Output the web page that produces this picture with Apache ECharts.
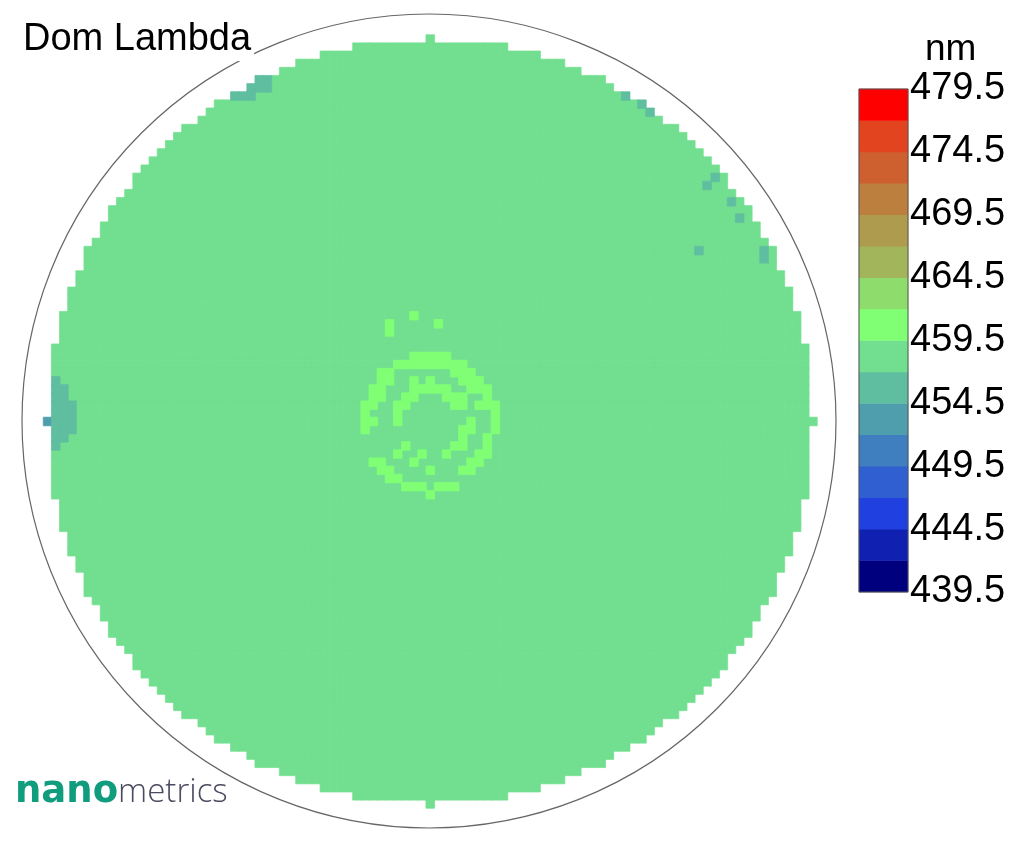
<!DOCTYPE html>
<html>
<head>
<meta charset="utf-8">
<title>Dom Lambda</title>
<style>
  html, body { margin: 0; padding: 0; background: #fff; }
  #chart { width: 1024px; height: 847px; }
</style>
<script src="https://cdn.jsdelivr.net/npm/echarts@6/dist/echarts.min.js"></script>
</head>
<body>
<div id="chart"></div>
<script>
// wafer extent, first and last measured column of each row (row 0 is the top)
const rowFirstCol = [47,
  38, 34, 31, 29, 26, 25, 23, 21, 20, 19, 17, 16, 15, 14, 13, 12,
  11, 11, 10, 9, 8, 8, 7, 7, 6, 5, 5, 5, 4, 4, 3, 3, 3, 2, 2, 2, 2,
  1, 1, 1, 1, 1, 1, 1, 1, 1,
  0,
  1, 1, 1, 1, 1, 1, 1, 1, 1,
  2, 2, 2, 2, 3, 3, 3, 4, 4, 5, 5, 5, 6, 7, 7, 8, 8, 9, 10, 11, 11,
  12, 13, 14, 15, 16, 17, 19, 20, 21, 23, 25, 26, 29, 31, 34, 38,
  47];
const rowLastCol = [47,
  56, 60, 63, 65, 68, 69, 71, 73, 74, 75, 77, 78, 79, 80, 81, 82,
  83, 83, 84, 85, 86, 86, 87, 87, 88, 89, 89, 89, 90, 90, 91, 91, 91, 92, 92, 92, 92,
  93, 93, 93, 93, 93, 93, 93, 93, 93,
  94,
  93, 93, 93, 93, 93, 93, 93, 93, 93,
  92, 92, 92, 92, 91, 91, 91, 90, 90, 89, 89, 89, 88, 87, 87, 86, 86, 85, 84, 83, 83,
  82, 81, 80, 79, 78, 77, 75, 74, 73, 71, 69, 68, 65, 63, 60, 56,
  47];

// nm values
const baseValue = 458.2;
const highValue = 460.7;
const edgeValue = 455.7;
const lowValue = 453.2;

// bright ring around the centre, [col, row]
const highCells = [
  [45,34], [48,35], [42,35], [42,36],
  [45,39], [46,39], [47,39], [48,39], [49,39],
  [43,40], [44,40], [45,40], [46,40], [47,40], [48,40], [49,40], [50,40], [51,40],
  [41,41], [42,41], [50,41], [51,41], [52,41],
  [41,42], [42,42], [45,42], [47,42], [51,42], [52,42], [53,42],
  [40,43], [41,43], [45,43], [46,43], [47,43], [48,43], [49,43], [52,43], [53,43], [54,43],
  [40,44], [41,44], [44,44], [45,44], [49,44], [50,44], [51,44], [54,44],
  [39,45], [40,45], [43,45], [44,45], [50,45], [51,45], [53,45], [54,45], [55,45],
  [39,46], [43,46], [55,46],
  [39,47], [40,47], [43,47], [52,47], [55,47],
  [39,48], [51,48], [52,48], [55,48],
  [51,49], [54,49],
  [44,50], [50,50], [51,50], [54,50],
  [43,51], [46,51], [49,51], [53,51], [54,51],
  [40,52], [41,52], [45,52], [52,52], [53,52],
  [41,53], [42,53], [47,53], [51,53], [52,53],
  [42,54], [43,54],
  [44,55], [45,55], [46,55], [48,55], [49,55], [50,55],
  [47,56]
];
// slightly low cells near the edge, [col, row]
const edgeCells = [
  [26,5], [27,5], [25,6], [26,6], [27,6], [23,7], [24,7], [25,7],
  [71,7], [73,8], [74,9], [82,17], [81,18], [84,20], [85,22], [80,26], [88,26], [88,27],
  [1,42], [1,43], [2,43], [1,44], [2,44], [1,45], [2,45], [3,45],
  [1,46], [2,46], [3,46], [1,47], [2,47], [3,47], [1,48], [2,48], [3,48],
  [1,49], [2,49], [1,50]
];
const lowCells = [[0,47]];

// colour scale, bottom to top
const bandEdges = [439.5, 442, 444.5, 447, 449.5, 452, 454.5, 457, 459.5, 462, 464.5, 467, 469.5, 472, 474.5, 477, 479.5];
const bandColors = ['#00007f', '#1020b0', '#2040e0', '#2f5fd0', '#3f7ebf', '#4f9eae', '#60bea0', '#72df90',
  '#80ff75', '#8edc6c', '#a3b55b', '#af9b4d', '#bd7f3d', '#ce5f2f', '#e24420', '#ff0000'];
const tickValues = [439.5, 444.5, 449.5, 454.5, 459.5, 464.5, 469.5, 474.5, 479.5];

const colCount = 95;
const cols = [], rows = [];
for (let i = 0; i < colCount; i++) { cols.push(i); rows.push(i); }

const override = {};
highCells.forEach(c => { override[c[0] + '_' + c[1]] = highValue; });
edgeCells.forEach(c => { override[c[0] + '_' + c[1]] = edgeValue; });
lowCells.forEach(c => { override[c[0] + '_' + c[1]] = lowValue; });

function bandColor(v) {
  for (let i = 0; i < bandColors.length; i++) {
    if (v < bandEdges[i + 1]) return bandColors[i];
  }
  return bandColors[bandColors.length - 1];
}
// a thin border of the cell's own colour closes the seams between neighbours
function cell(c, r, v) {
  return { value: [c, r, v], itemStyle: { borderColor: bandColor(v), borderWidth: 0.7 } };
}

// plain cells go first so the odd ones are painted on top of them
const baseCells = [], oddCells = [];
rowFirstCol.forEach((first, r) => {
  for (let c = first; c <= rowLastCol[r]; c++) {
    const v = override[c + '_' + r];
    if (v === undefined) baseCells.push(cell(c, r, baseValue));
    else oddCells.push(cell(c, r, v));
  }
});
const waferData = baseCells.concat(oddCells);

const bandNames = bandColors.map((c, i) => i);
const barData = bandColors.map((c, i) => [0, i, (bandEdges[i] + bandEdges[i + 1]) / 2]);
const pieces = bandColors.map((c, i) => ({ gte: bandEdges[i], lt: bandEdges[i + 1], color: c }));

const chart = echarts.init(document.getElementById('chart'));
chart.setOption({
  animation: false,
  backgroundColor: '#fff',
  title: [
    {
      text: 'Dom Lambda', left: 21, top: 20, padding: [0, 3, 1, 2], backgroundColor: '#fff', z: 6,
      textStyle: { fontFamily: 'Liberation Sans', fontSize: 38, lineHeight: 40, fontWeight: 'normal', color: '#000' }
    },
    {
      text: 'nm', left: 925, top: 30, padding: 0,
      textStyle: { fontFamily: 'Liberation Sans', fontSize: 37, lineHeight: 40, fontWeight: 'normal', color: '#000' }
    },
    {
      text: '{a|nano}{b|metrics}', left: 15, top: 774, padding: 0,
      textStyle: {
        rich: {
          a: { fontFamily: 'DejaVu Sans', fontWeight: 'bold', fontSize: 37, color: '#0f9d7e' },
          b: { fontFamily: 'Open Sans', fontWeight: 300, fontSize: 33, color: '#4a4a60' }
        }
      }
    }
  ],
  graphic: [{
    type: 'circle', z: 1, silent: true,
    shape: { cx: 429, cy: 421, r: 407 },
    style: { fill: null, stroke: '#666', lineWidth: 1.2 }
  }],
  grid: [
    { left: 43.5, top: 35, width: 773.5, height: 773 },
    { left: 859, top: 89, width: 49, height: 503, show: true, borderColor: '#555', borderWidth: 1, backgroundColor: 'transparent', z: 5 }
  ],
  xAxis: [
    { type: 'category', gridIndex: 0, data: cols, show: false },
    { type: 'category', gridIndex: 1, data: ['nm'], show: false }
  ],
  yAxis: [
    { type: 'category', gridIndex: 0, data: rows, inverse: true, show: false },
    { type: 'category', gridIndex: 1, data: bandNames, show: false },
    {
      type: 'value', gridIndex: 1, position: 'right', min: 439.5, max: 479.5,
      axisLine: { show: false }, axisTick: { show: false }, splitLine: { show: false },
      axisLabel: {
        customValues: tickValues, margin: 2, color: '#000',
        fontFamily: 'Liberation Sans', fontSize: 38, padding: [3, 0, 0, 0],
        formatter: v => v.toFixed(1)
      }
    }
  ],
  visualMap: { show: false, type: 'piecewise', dimension: 2, seriesIndex: [0, 1], pieces: pieces },
  series: [
    { type: 'heatmap', xAxisIndex: 0, yAxisIndex: 0, data: waferData, progressive: 0, silent: true },
    { type: 'heatmap', xAxisIndex: 1, yAxisIndex: 1, data: barData, progressive: 0, silent: true }
  ]
});
</script>
</body>
</html>
